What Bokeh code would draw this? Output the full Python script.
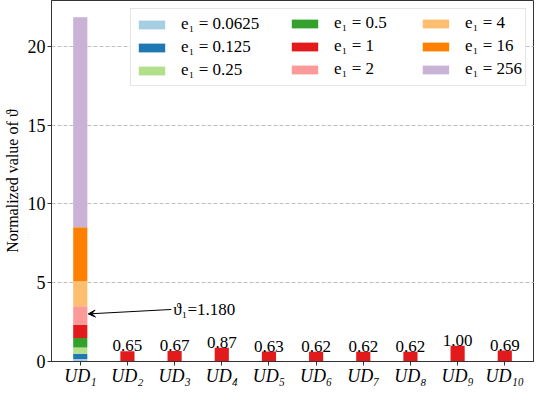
import numpy as np
from bokeh.plotting import figure
from bokeh.models import (ColumnDataSource, Range1d, FixedTicker, Arrow,
                          VeeHead, Label, Legend)
from bokeh.embed import file_html
from bokeh.resources import INLINE

cats = ["UD₁", "UD₂", "UD₃", "UD₄", "UD₅", "UD₆", "UD₇", "UD₈", "UD₉", "UD₁₀"]
e1_levels = ["0.0625", "0.125", "0.25", "0.5", "1", "2", "4", "16", "256"]
colors = ["#a6cee3", "#1f78b4", "#b2df8a", "#33a02c", "#e31a1c",
          "#fb9a99", "#fdbf6f", "#ff7f00", "#cab2d6"]
# UD1 is split by e1, the rest only have e1 = 1
ud1_parts = [0.16, 0.33, 0.40, 0.60, 0.83, 1.18, 1.59, 3.43, 13.31]
other_vals = [0.65, 0.67, 0.87, 0.63, 0.62, 0.62, 0.62, 1.00, 0.69]
theta1 = 1.180

FONT = "Liberation Serif"

x = np.arange(len(cats))
data = {"x": x}
for i, lev in enumerate(e1_levels):
    col = [ud1_parts[i]] + [0.0] * len(other_vals)
    if lev == "1":
        col = [ud1_parts[i]] + list(other_vals)
    data[lev] = col
src = ColumnDataSource(data)

p = figure(width=534, height=388, output_backend="svg", toolbar_location=None,
           x_range=Range1d(-0.61, 9.63), y_range=Range1d(0, 22.9),
           min_border_top=0, min_border_right=0, min_border_left=10,
           min_border_bottom=10)

r = p.vbar_stack(e1_levels, x="x", width=0.3, source=src,
                 fill_color=colors, line_color=None)

# value labels on the single bars
lab_src = ColumnDataSource(dict(x=x[1:], y=other_vals,
                                t=["%.2f" % v for v in other_vals]))
p.text(x="x", y="y", text="t", source=lab_src, text_align="center",
       text_baseline="bottom", y_offset=0, text_font_size="17px",
       text_font={"value": FONT}, text_color="black")

# annotation for theta_1
p.add_layout(Arrow(end=VeeHead(size=7, fill_color="black", line_color="black"),
                   x_start=1.93, y_start=3.3, x_end=0.17, y_end=3.02,
                   line_color="black", line_width=1))
p.add_layout(Label(x=1.97, y=3.3, text="ϑ₁=" + "%.3f" % theta1,
                   text_baseline="middle", text_font_size="17px",
                   text_font=FONT, text_color="black"))

# legend: three columns, the first one carries the frame
cols = [e1_levels[0:3], e1_levels[3:6], e1_levels[6:9]]
widths = [340, 188, 40]
for k, (levs, lw) in enumerate(zip(cols, widths)):
    items = [("e₁ = " + lev, [r[e1_levels.index(lev)]]) for lev in levs]
    lg = Legend(items=items, location="top_right")
    lg.glyph_width = 33
    lg.glyph_height = 11
    lg.label_height = 22
    lg.label_width = lw
    lg.label_standoff = 13
    lg.spacing = 1
    lg.padding = 4
    lg.margin = 8
    lg.label_text_font = FONT
    lg.label_text_font_size = "17px"
    lg.label_text_color = "black"
    lg.border_line_color = "#cccccc"
    if k == 0:
        lg.background_fill_color = "white"
        lg.background_fill_alpha = 1.0
    else:
        lg.border_line_alpha = 0.0
        lg.background_fill_alpha = 0.0
    p.add_layout(lg)

# axes
p.xaxis.ticker = FixedTicker(ticks=list(x))
p.xaxis.major_label_overrides = {int(i): c for i, c in zip(x, cats)}
p.xaxis.major_label_text_font_style = "italic"
p.yaxis.ticker = FixedTicker(ticks=[0, 5, 10, 15, 20])
p.yaxis.axis_label = "Normalized value of ϑ"
p.yaxis.axis_label_text_font_style = "normal"
p.yaxis.axis_label_text_font_size = "16px"
p.yaxis.axis_label_text_color = "black"
p.yaxis.axis_label_standoff = 4
for ax in (p.xaxis, p.yaxis):
    ax.major_label_text_font = FONT
    ax.major_label_text_font_size = "18px"
    ax.major_label_text_color = "black"
    ax.axis_label_text_font = FONT
    ax.major_tick_out = 4
    ax.major_tick_in = 0
    ax.minor_tick_out = 0
    ax.minor_tick_in = 0
    ax.axis_line_color = "#333333"
    ax.major_tick_line_color = "#333333"
p.yaxis.major_label_standoff = 2
p.xaxis.major_label_standoff = 0

p.xgrid.grid_line_color = None
p.ygrid.grid_line_color = "#b0b0b0"
p.ygrid.grid_line_dash = "4 2"
p.ygrid.grid_line_alpha = 0.8
p.outline_line_color = "#333333"
p.outline_line_alpha = 1.0

open("out.html", "w").write(file_html(p, INLINE))
